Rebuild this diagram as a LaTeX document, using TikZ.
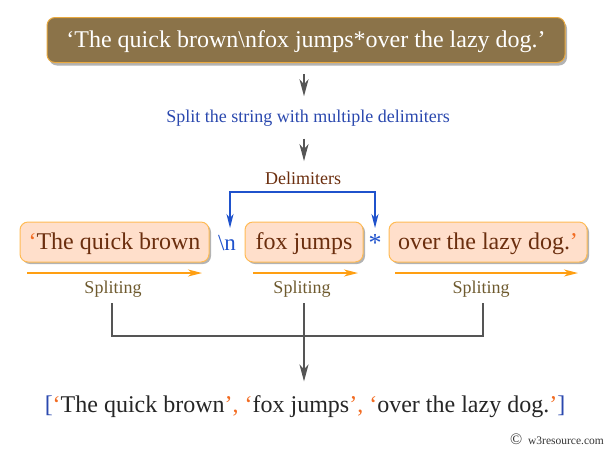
\documentclass[tikz,border=0pt]{standalone}
\usepackage{fontspec}
\setmainfont{Liberation Serif}
\usetikzlibrary{arrows.meta,shadows}
\definecolor{boxbrown}{HTML}{8B7349}
\definecolor{boxedge}{HTML}{E9A93F}
\definecolor{partfill}{HTML}{FFDFCB}
\definecolor{partedge}{HTML}{FFBB55}
\definecolor{parttext}{HTML}{6B2E0E}
\definecolor{quotemark}{HTML}{F26B21}
\definecolor{delimblue}{HTML}{1F52CC}
\definecolor{splitblue}{HTML}{2A48AE}
\definecolor{flowgray}{HTML}{555555}
\definecolor{splitorange}{HTML}{FF9F12}
\definecolor{splittext}{HTML}{6E5A2E}

\begin{document}
\begin{tikzpicture}[
x=1pt,y=-1pt,
>={Stealth[length=17pt,width=9pt,inset=5pt]},
whole/.style={
	draw=boxedge,
	fill=boxbrown,
	line width=1pt,
	rounded corners=8pt,
	minimum width=518pt,
	minimum height=45pt,
	text=white,
	text height=17pt,
	text depth=2pt,
	font=\fontsize{24}{29}\selectfont,
	drop shadow={shadow xshift=2pt,shadow yshift=-3pt,opacity=.6}
},
part/.style={
	draw=partedge,
	fill=partfill,
	line width=1pt,
	rounded corners=8pt,
	minimum height=40pt,
	inner sep=0pt,
	text=parttext,
	text height=17pt,
	text depth=2pt,
	font=\fontsize{24}{29}\selectfont,
	drop shadow={shadow xshift=2pt,shadow yshift=-2pt,opacity=.6}
},
delim/.style={
	text=delimblue,
	font=\fontsize{23}{28}\selectfont
},
splitlabel/.style={
	text=splittext,
	font=\fontsize{18}{22}\selectfont
},
flow/.style={
	->,
	draw=flowgray,
	line width=2pt
},
bracket/.style={
	<->,
	draw=delimblue,
	line width=1.5pt,
	>={Stealth[length=14pt,width=7pt,inset=4pt]}
},
splitting/.style={
	->,
	draw=splitorange,
	line width=1.5pt,
	>={Stealth[length=14pt,width=7pt,inset=4pt]}
}
]
\useasboundingbox (0,0) rectangle (609,448);

\node[whole] (whole) at (306,40) {‘The quick brown\textbackslash nfox jumps*over the lazy dog.’};
\node[text=splitblue,font=\fontsize{18}{22}\selectfont] (task) at (308,118) {Split the string with multiple delimiters};
\node[text=parttext,font=\fontsize{18}{22}\selectfont] (delims) at (303,178) {Delimiters};

\node[part,minimum width=189pt] (p1) at (114.5,242) {\textcolor{quotemark}{‘}The quick brown};
\node[part,minimum width=118pt] (p2) at (304,242) {fox jumps};
\node[part,minimum width=198pt] (p3) at (488,242) {over the lazy dog.\textcolor{quotemark}{’}};

\node[delim] (d1) at (227,243) {\textbackslash n};
\node[delim,font=\fontsize{26}{30}\selectfont] (d2) at (375,243) {*};

\foreach \i/\x/\a/\b in {1/113/27/202,2/302/253/358,3/481/395/578}{
	\node[splitlabel] (s\i) at (\x,289) {Spliting};
	\coordinate (sa\i) at (\a,273);
	\coordinate (sb\i) at (\b,273);
	\draw[splitting] (sa\i) -- (sb\i);
}

\node[font=\fontsize{24}{29}\selectfont,text=black!85] (result) at (305,407) {\textcolor{splitblue}{[}\textcolor{quotemark}{‘}The quick brown\textcolor{quotemark}{’, ‘}fox jumps\textcolor{quotemark}{’, ‘}over the lazy dog.\textcolor{quotemark}{’}\textcolor{splitblue}{]}};
\node[font=\fontsize{11.5}{14}\selectfont,text=black!80] (credit) at (557,439) {{\fontsize{16}{16}\selectfont\copyright}\ \ w3resource.com};

\coordinate (mid) at (304,0);
\coordinate (join) at (304,336);
\coordinate (up1) at (230,192);
\coordinate (up2) at (375,192);
\coordinate (tip1) at (230,228);
\coordinate (tip2) at (375,228);
\coordinate (start1) at (112,303);
\coordinate (start2) at (304,303);
\coordinate (start3) at (483,303);

\draw[flow] ([yshift=-11pt]whole.south -| mid) -- ([yshift=10pt]task.north -| mid);
\draw[flow] ([yshift=-9pt]task.south -| mid) -- ([yshift=7pt]delims.north -| mid);

\draw[bracket] (tip1) -- (up1) -- (up2) -- (tip2);

\draw[flowgray,line width=2pt] (start1) |- (join) -| (start3);
\draw[flow] (start2) -- ([yshift=11pt]result.north -| mid);
\end{tikzpicture}
\end{document}
